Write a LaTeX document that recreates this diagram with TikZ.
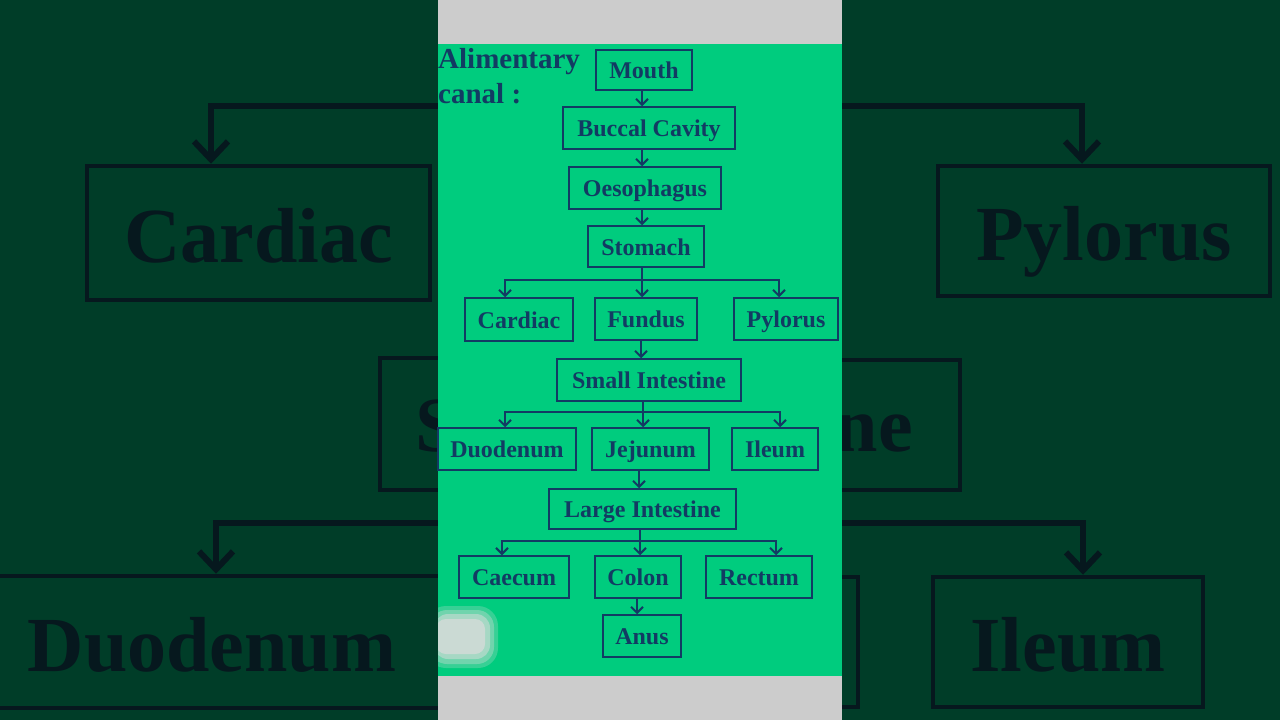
\documentclass[tikz,border=0pt]{standalone}
\usepackage{fontspec}
\setmainfont{Liberation Serif}
\usetikzlibrary{arrows.meta}
\definecolor{panel}{HTML}{00CC7E}
\definecolor{ink}{HTML}{123B63}
\definecolor{sidebg}{HTML}{003D28}
\definecolor{sideink}{HTML}{06181E}
\definecolor{greybar}{HTML}{CCCCCC}
\definecolor{blob}{HTML}{DCDCDC}
\begin{document}
\begin{tikzpicture}[x=1pt,y=-1pt,
 box/.style={draw=ink, line width=1.5pt, inner sep=0pt, text=ink, text height=17pt, text depth=0pt, font=\fontsize{24}{28}\selectfont\bfseries},
 conn/.style={draw=ink, line width=2pt},
 arr/.style={conn, -{Straight Barb[length=6pt,width=12pt,line width=2pt]}},
 bigbox/.style={draw=sideink, line width=4.5pt, inner sep=0pt, text=sideink, text height=58pt, text depth=0pt, font=\fontsize{78}{90}\selectfont\bfseries},
 bigtext/.style={text=sideink, inner sep=0pt, font=\fontsize{78}{90}\selectfont\bfseries},
 bigconn/.style={draw=sideink, line width=6pt},
 bigarr/.style={bigconn, -{Straight Barb[length=18pt,width=34pt,line width=6pt]}},
 sideline/.style={draw=sideink, line width=4.5pt},
]
\useasboundingbox (0,0) rectangle (1280,720);
\fill[sidebg] (0,0) rectangle (1280,720);

% left blurred side
\begin{scope}
\clip (0,0) rectangle (438,720);
\node[bigbox, minimum width=343pt, minimum height=134pt] (bcard) at (258.5,233) {Cardiac};
\draw[sideline] (380,358) rectangle (470,490);
\node[bigtext, anchor=base west] (bS) at (415,451) {S};
\node[bigbox, minimum width=480pt, minimum height=132pt] (bduo) at (212,642) {Duodenum};
\coordinate (lb1) at (450,106);
\coordinate (lb1t) at (211,106);
\coordinate (lb2) at (450,523);
\coordinate (lb2t) at (216,523);
\draw[bigarr] (lb1) -- (lb1t) -- (bcard.north -| lb1t);
\draw[bigarr] (lb2) -- (lb2t) -- (bduo.north -| lb2t);
\end{scope}

% right blurred side
\begin{scope}
\clip (842,0) rectangle (1280,720);
\node[bigbox, minimum width=332pt, minimum height=130pt] (bpyl) at (1104,231) {Pylorus};
\draw[sideline] (820,360) rectangle (960,490);
\node[bigtext, anchor=base east] (bne) at (913,451) {ne};
\node[bigbox, minimum width=270pt, minimum height=130pt] (bile) at (1068,642) {Ileum};
\draw[sideline] (800,577) rectangle (858,707);
\coordinate (rb1) at (830,106);
\coordinate (rb1t) at (1082,106);
\coordinate (rb2) at (830,523);
\coordinate (rb2t) at (1083,523);
\draw[bigarr] (rb1) -- (rb1t) -- (bpyl.north -| rb1t);
\draw[bigarr] (rb2) -- (rb2t) -- (bile.north -| rb2t);
\end{scope}

% central panel
\fill[panel] (438,44) rectangle (842,676);
\fill[greybar] (438,0) rectangle (842,44);
\fill[greybar] (438,676) rectangle (842,720);

\begin{scope}
\clip (438,44) rectangle (842,676);
\fill[blob, opacity=0.25, rounded corners=20pt] (426,606) rectangle (498,668);
\fill[blob, opacity=0.35, rounded corners=17pt] (430,610) rectangle (494,664);
\fill[blob, opacity=0.5, rounded corners=14pt] (434,614) rectangle (490,659);
\fill[blob, opacity=0.7, rounded corners=10pt] (436,619) rectangle (485,654);
\end{scope}

\node[anchor=north west, inner sep=0pt, align=left, text=ink,
      font=\fontsize{29}{35}\selectfont\bfseries] (title) at (438,48) {Alimentary\\canal :};

\node[box, minimum width=96pt,  minimum height=40pt] (mouth)    at (644,70)    {Mouth};
\node[box, minimum width=172pt, minimum height=42pt] (buccal)   at (649,128)   {Buccal Cavity};
\node[box, minimum width=152pt, minimum height=42pt] (oeso)     at (645,188)   {Oesophagus};
\node[box, minimum width=116pt, minimum height=41pt] (stomach)  at (646,246.5) {Stomach};
\node[box, minimum width=108pt, minimum height=43pt] (cardiac)  at (519,319.5) {Cardiac};
\node[box, minimum width=102pt, minimum height=42pt] (fundus)   at (646,319)   {Fundus};
\node[box, minimum width=104pt, minimum height=42pt] (pylorus)  at (786,319)   {Pylorus};
\node[box, minimum width=184pt, minimum height=42pt] (small)    at (649,380)   {Small Intestine};
\node[box, minimum width=138pt, minimum height=42pt] (duodenum) at (507,449)   {Duodenum};
\node[box, minimum width=117pt, minimum height=42pt] (jejunum)  at (650.5,449) {Jejunum};
\node[box, minimum width=86pt,  minimum height=42pt] (ileum)    at (775,449)   {Ileum};
\node[box, minimum width=187pt, minimum height=40pt] (large)    at (642.5,509) {Large Intestine};
\node[box, minimum width=110pt, minimum height=42pt] (caecum)   at (514,577)   {Caecum};
\node[box, minimum width=86pt,  minimum height=42pt] (colon)    at (638,577)   {Colon};
\node[box, minimum width=106pt, minimum height=42pt] (rectum)   at (759,577)   {Rectum};
\node[box, minimum width=78pt,  minimum height=42pt] (anus)     at (642,636)   {Anus};

% straight links
\coordinate (x1) at (642,0);
\draw[arr] (mouth.south -| x1) -- (buccal.north -| x1);
\draw[arr] (buccal.south -| x1) -- (oeso.north -| x1);
\draw[arr] (oeso.south -| x1) -- (stomach.north -| x1);

% stomach fork
\coordinate (sf) at (642,280);
\coordinate (sfl) at (505,280);
\coordinate (sfr) at (779,280);
\draw[conn] (stomach.south -| sf) -- (sf);
\draw[arr] (sf) -- (fundus.north -| sf);
\draw[arr, line join=miter] (sf) -- (sfl) -- (cardiac.north -| sfl);
\draw[arr, line join=miter] (sf) -- (sfr) -- (pylorus.north -| sfr);

\coordinate (x2) at (641,0);
\draw[arr] (fundus.south -| x2) -- (small.north -| x2);

% small intestine fork
\coordinate (mf) at (643,412);
\coordinate (mfl) at (505,412);
\coordinate (mfr) at (780,412);
\draw[conn] (small.south -| mf) -- (mf);
\draw[arr] (mf) -- (jejunum.north -| mf);
\draw[arr, line join=miter] (mf) -- (mfl) -- (duodenum.north -| mfl);
\draw[arr, line join=miter] (mf) -- (mfr) -- (ileum.north -| mfr);

\coordinate (x3) at (639,0);
\draw[arr] (jejunum.south -| x3) -- (large.north -| x3);

% large intestine fork
\coordinate (lf) at (640,541);
\coordinate (lfl) at (502,541);
\coordinate (lfr) at (776,541);
\draw[conn] (large.south -| lf) -- (lf);
\draw[arr] (lf) -- (colon.north -| lf);
\draw[arr, line join=miter] (lf) -- (lfl) -- (caecum.north -| lfl);
\draw[arr, line join=miter] (lf) -- (lfr) -- (rectum.north -| lfr);

\coordinate (x4) at (637,0);
\draw[arr] (colon.south -| x4) -- (anus.north -| x4);
\end{tikzpicture}
\end{document}
